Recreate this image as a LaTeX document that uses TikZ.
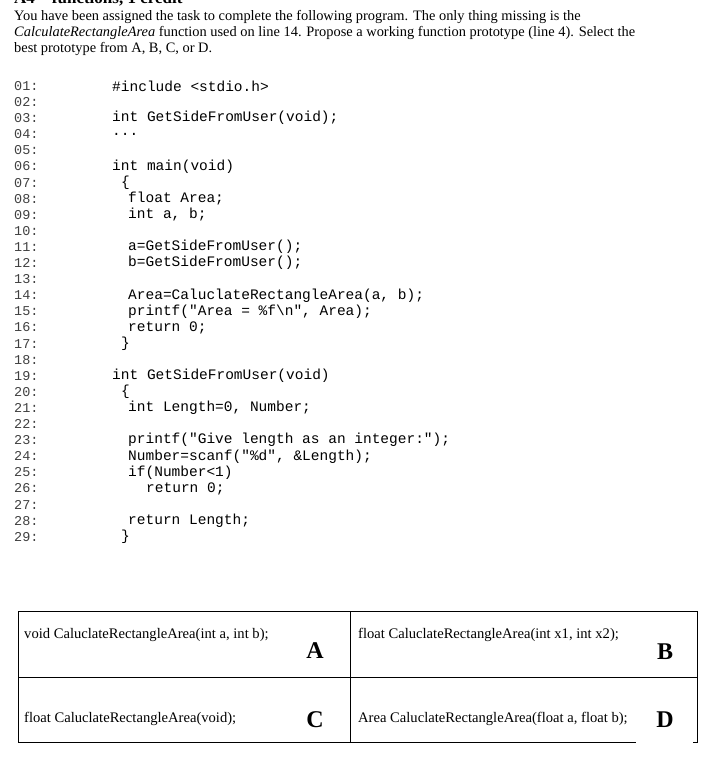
\documentclass[tikz,border=0pt]{standalone}
\usepackage{fontspec}
\setmainfont{Liberation Serif}
\setmonofont{Liberation Mono}
\begin{document}
\begin{tikzpicture}[x=1pt,y=-1pt,
  para/.style={anchor=west,inner sep=0,font=\fontsize{14.4}{16}\selectfont},
  ln/.style={anchor=west,inner sep=0,font=\ttfamily\fontsize{13.5}{15}\selectfont,text=black!75},
  code/.style={anchor=west,inner sep=0,font=\ttfamily\fontsize{14.5}{15}\selectfont},
  cell/.style={anchor=west,inner sep=0,font=\fontsize{14.6}{16}\selectfont},
  letter/.style={inner sep=0,font=\bfseries\fontsize{24}{26}\selectfont},
  grid/.style={line width=1pt}]
\useasboundingbox (0,0) rectangle (715,761);
\begin{scope}
\clip (0,0) rectangle (715,761);
\node[anchor=base west,inner sep=0,font=\bfseries\fontsize{17}{19}\selectfont] (hdr) at (14,3) {A4 -- functions, 1 credit};
\end{scope}
\node[para] (p1) at (14,17) {You have been assigned the task to complete the following program. The only thing missing is the};
\node[para] (p2) at (14,33) {\textit{CalculateRectangleArea} function used on line 14. Propose a working function prototype (line 4). Select the};
\node[para] (p3) at (14,49) {best prototype from A, B, C, or D.};
\foreach \i in {1,...,29}{
  \pgfmathsetmacro\yy{86+(\i-1)*16.1}
  \node[ln] (n\i) at (14,\yy) {\ifnum\i<10 0\fi\i:};
}
\newcommand\cl[3]{\node[code] (c#1) at (#2,{86+(#1-1)*16.1}) {#3};}
\cl{1}{112}{\#include <stdio.h>}
\cl{3}{112}{int GetSideFromUser(void);}
\cl{4}{112}{...}
\cl{6}{112}{int main(void)}
\cl{7}{121}{\{}
\cl{8}{128}{float Area;}
\cl{9}{128}{int a, b;}
\cl{11}{128}{a=GetSideFromUser();}
\cl{12}{128}{b=GetSideFromUser();}
\cl{14}{128}{Area=CaluclateRectangleArea(a, b);}
\cl{15}{128}{printf("Area = \%f\textbackslash n", Area);}
\cl{16}{128}{return 0;}
\cl{17}{121}{\}}
\cl{19}{112}{int GetSideFromUser(void)}
\cl{20}{121}{\{}
\cl{21}{128}{int Length=0, Number;}
\cl{23}{128}{printf("Give length as an integer:");}
\cl{24}{128}{Number=scanf("\%d", \&Length);}
\cl{25}{128}{if(Number<1)}
\cl{26}{146}{return 0;}
\cl{28}{128}{return Length;}
\cl{29}{121}{\}}
% table
\draw[grid] (18,611) -- (697,611);
\draw[grid] (18,677) -- (697,677);
\draw[grid] (18,742) -- (636,742);
\draw[grid] (18,611) -- (18,742);
\draw[grid] (350,611) -- (350,742);
\draw[grid] (697,611) -- (697,742) -- (693,742);
\node[cell] (ta) at (24,635) {void CaluclateRectangleArea(int a, int b);};
\node[letter] (la) at (315,651) {A};
\node[cell] (tb) at (358,635) {float CaluclateRectangleArea(int x1, int x2);};
\node[letter] (lb) at (665,652) {B};
\node[cell] (tc) at (24,719) {float CaluclateRectangleArea(void);};
\node[letter] (lc) at (315,720) {C};
\node[cell] (td) at (358,719) {Area CaluclateRectangleArea(float a, float b);};
\node[letter] (ld) at (665,720) {D};
\end{tikzpicture}
\end{document}
